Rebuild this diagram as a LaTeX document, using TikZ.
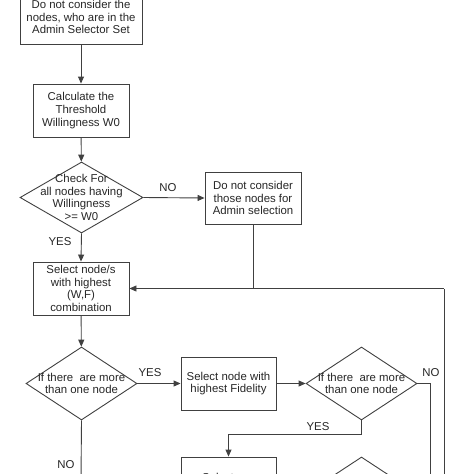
\documentclass[tikz,border=0pt]{standalone}
\usepackage{fontspec}
\setmainfont{Liberation Sans}
\usetikzlibrary{arrows.meta,shapes.geometric}
\newcommand\flowfont{\fontsize{11.4pt}{12.7pt}\selectfont}
\begin{document}
\begin{tikzpicture}[x=1pt,y=-1pt,
  line/.style={draw=black!75, line width=0.9pt},
  arr/.style={line, -{Triangle[length=7pt,width=6pt]}},
  box/.style={draw=black!75, line width=0.9pt, rectangle, inner sep=0pt,
    align=center, text=black!85, font=\flowfont},
  dia/.style={draw=black!75, line width=0.9pt, diamond, inner sep=0pt,
    minimum width=111pt, minimum height=73pt},
  txt/.style={inner sep=0pt, align=center, text=black!85, font=\flowfont},
  lab/.style={inner sep=0pt, text=black!85, font=\flowfont}]
\useasboundingbox (0,0) rectangle (474,474);
\clip (0,0) rectangle (474,474);
% boxes
\node[box, minimum width=122pt, minimum height=54pt] (b1) at (81,17)
  {Do not consider the\\nodes, who are in the\\Admin Selector Set};
\node[box, minimum width=96pt, minimum height=53pt] (b2) at (81,110.5)
  {Calculate the\\Threshold\\Willingness W0};
\node[dia, minimum width=123pt, minimum height=71pt] (d1) at (81.5,197.5) {};
\node[txt] (d1t) at (d1.center) {Check For\\all nodes having\\Willingness\\>= W0};
\node[box, minimum width=96pt, minimum height=52pt] (b3) at (253,198)
  {Do not consider\\those nodes for\\Admin selection};
\node[box, minimum width=96pt, minimum height=53pt] (b4) at (81,288.5)
  {Select node/s\\with highest\\(W,F)\\combination};
\node[dia] (d2) at (81.5,383.5) {};
\node[txt] (d2t) at (d2.center) {If there\ \ are more\\than one node};
\node[box, minimum width=95pt, minimum height=53pt] (b5) at (228.5,383.5)
  {Select node with\\highest Fidelity};
\node[dia] (d3) at (361.5,383.5) {};
\node[txt] (d3t) at (d3.center) {If there\ \ are more\\than one node};
\node[box, minimum width=95pt, minimum height=53pt] (b6) at (228.5,483.5) {};
\node[txt, anchor=base west] (b6t) at (202,481) {Select};
\node[dia] (d4) at (361.5,493.5) {};
% helper coordinates
\coordinate (r1) at (444,288.5);
\coordinate (r2) at (444,480);
\coordinate (n1) at (430,480);
\coordinate (n2) at (81,480);
\coordinate (c1) at (361.5,434);
% connectors
\draw[arr] (b1) -- (b2);
\draw[arr] (b2) -- (d1);
\draw[arr] (d1.east) -- (b3.west);
\draw[arr] (d1.south) -- (b4.north);
\draw[line] (b3.south) -- (b3.south |- r1);
\draw[line] (r2) -- (r1);
\draw[arr] (r1) -- (b4.east);
\draw[arr] (b4) -- (d2);
\draw[arr] (d2.east) -- (b5.west);
\draw[arr] (b5.east) -- (d3.west);
\draw[line] (d3.east) -| (n1);
\draw[arr] (d3.south) -- (c1) -| (b6.north);
\draw[line] (d2.south) -- (n2);
% labels
\node[lab] (l1) at (168,188) {NO};
\node[lab] (l2) at (60,242) {YES};
\node[lab] (l3) at (150,373) {YES};
\node[lab] (l4) at (431,373) {NO};
\node[lab] (l5) at (318,427) {YES};
\node[lab] (l6) at (66,465) {NO};
\node[lab] (l7) at (416,479) {YES};
\end{tikzpicture}
\end{document}
